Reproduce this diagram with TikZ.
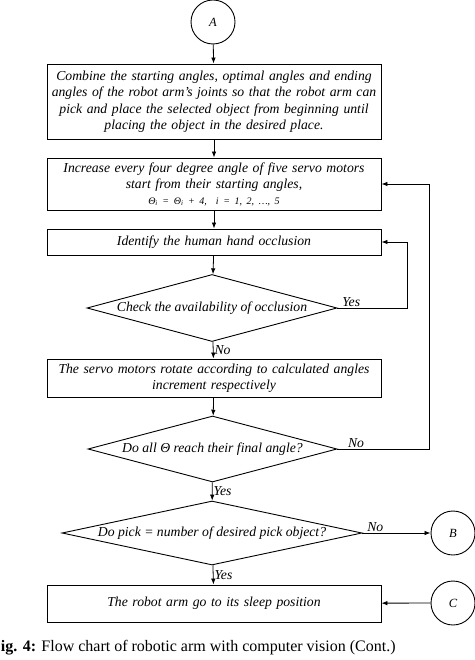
\documentclass[tikz,border=0pt]{standalone}
\usepackage{fontspec}
\setmainfont{Liberation Serif}
\usetikzlibrary{shapes.geometric,arrows.meta}

\tikzset{
  proc/.style={draw,line width=0.9pt,minimum width=334pt,text width=330pt,align=center,inner sep=0pt,font=\itshape\fontsize{13.7}{16.5}\selectfont},
  dec/.style={draw,diamond,line width=0.9pt,inner sep=0pt},
  conn/.style={draw,circle,line width=0.9pt,minimum size=44pt,inner sep=0pt,font=\itshape\fontsize{12.5}{14}\selectfont},
  flow/.style={-{Latex[length=6pt,width=4.5pt]},line width=0.8pt},
  lbl/.style={font=\itshape\fontsize{13.7}{15}\selectfont,inner sep=1pt}
}

\begin{document}
\begin{tikzpicture}[x=1pt,y=-1pt]
\useasboundingbox (0,0) rectangle (474,660);

% connectors
\node[conn] (A) at (213,22) {A};
\node[conn] (B) at (453,533) {B};
\node[conn] (C) at (453,603) {C};

% process boxes
\node[proc,minimum height=75pt] (combine) at (214,101.5)
  {Combine the starting angles, optimal angles and ending\\ angles of the robot arm's joints so that the robot arm can\\ pick and place the selected object from beginning until\\ placing the object in the desired place.};
\node[proc,minimum height=52pt] (increase) at (214,184)
  {Increase every four degree angle of five servo motors\\ start from their starting angles,\\[-1pt]
   {\fontsize{10}{12}\selectfont Θ\textsubscript{i} = Θ\textsubscript{i} + 4,\ \ i = 1, 2, \dots, 5}};
\node[proc,minimum height=26pt] (identify) at (214,242) {Identify the human hand occlusion};
\node[proc,minimum height=38pt] (rotate) at (214,378)
  {The servo motors rotate according to calculated angles\\ increment respectively};
\node[proc,minimum height=37pt] (sleep) at (214,603.5) {The robot arm go to its sleep position};

% decisions
\node[dec,minimum width=250pt,minimum height=67pt,
  label={[lbl]center:Check the availability of occlusion}] (occl) at (212,308) {};
\node[dec,minimum width=249pt,minimum height=66pt,
  label={[lbl]center:Do all Θ reach their final angle?}] (final) at (212.5,449) {};
\node[dec,minimum width=300pt,minimum height=64pt,
  label={[lbl]center:Do pick = number of desired pick object?}] (pick) at (212,533) {};

% arrows
\draw[flow] (A) -- (combine);
\draw[flow] (combine) -- (increase);
\draw[flow] (increase) -- (identify);
\draw[flow] (identify) -- (occl);
\draw[flow] (occl) -- node[lbl,right]{No} (rotate);
\draw[flow] (rotate) -- (final);
\draw[flow] (final) -- node[lbl,right]{Yes} (pick);
\draw[flow] (pick) -- node[lbl,right]{Yes} (sleep);
\draw[flow] (occl.east) -- node[lbl,above right,pos=0.05]{Yes} (407,308) |- (identify.east);
\draw[flow] (final.east) -- node[lbl,above right,pos=0.1]{No} (429,449) |- (increase.east);
\draw[flow] (pick.east) -- node[lbl,above right,pos=0.05]{No} (B);
\draw[flow] (C) -- (sleep);

% caption
\node[anchor=base west,inner sep=0pt,font=\fontsize{16}{18}\selectfont] (caption) at (-9,651)
  {\textbf{Fig. 4:} Flow chart of robotic arm with computer vision (Cont.)};
\end{tikzpicture}
\end{document}
